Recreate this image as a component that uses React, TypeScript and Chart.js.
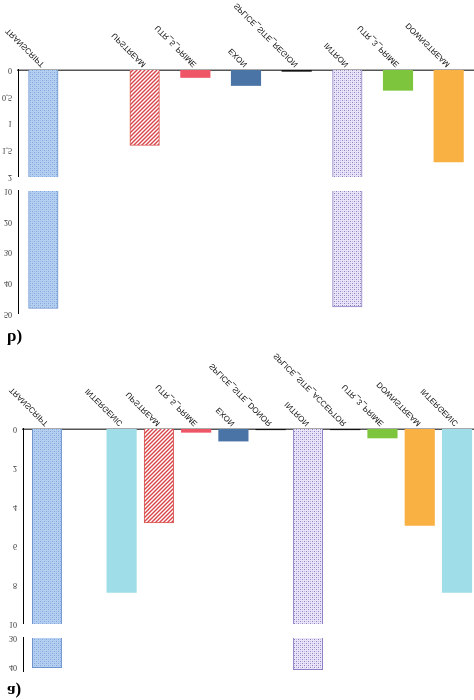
import React, { useEffect, useRef } from "react";
import { Chart, registerables } from "chart.js";
Chart.register(...registerables);

// ---- data ----
const catsB = ["TRANSCRIPT", "", "UPSTREAM", "UTR_5_PRIME", "EXON", "SPLICE_SITE_REGION", "INTRON", "UTR_3_PRIME", "DOWNSTREAM"];
const valsB: (number | null)[] = [48.2, null, 1.41, 0.14, 0.29, 0.025, 47.7, 0.38, 1.72];
const catsA = ["TRANSCRIPT", "", "INTERGENIC", "UPSTREAM", "UTR_5_PRIME", "EXON", "SPLICE_SITE_DONOR", "INTRON", "SPLICE_SITE_ACCEPTOR", "UTR_3_PRIME", "DOWNSTREAM", "INTERGENIC"];
const valsA: (number | null)[] = [40.0, null, 8.38, 4.82, 0.17, 0.62, 0.04, 40.7, 0.04, 0.46, 4.94, 8.38];
const ticksBLow = [0, 0.5, 1, 1.5, 2];
const ticksBHigh = [10, 20, 30, 40, 50];
const ticksALow = [0, 2, 4, 6, 8, 10];
const ticksAHigh = [30, 40];

function makeTile(draw: (ctx: CanvasRenderingContext2D) => void, size: number) {
  const c = document.createElement("canvas");
  c.width = size;
  c.height = size;
  const ctx = c.getContext("2d")!;
  draw(ctx);
  return ctx.createPattern(c, "repeat")!;
}

function makeStyles() {
  const dotsBlue = makeTile((ctx) => {
    ctx.fillStyle = "#B4CFF0";
    ctx.fillRect(0, 0, 4, 4);
    ctx.fillStyle = "#7FA5DC";
    ctx.fillRect(0, 0, 1, 1);
    ctx.fillRect(2, 2, 1, 1);
    ctx.fillStyle = "#9DBEE8";
    ctx.fillRect(2, 0, 1, 1);
    ctx.fillRect(0, 2, 1, 1);
  }, 4);
  const dotsPurple = makeTile((ctx) => {
    ctx.fillStyle = "#EAE6F7";
    ctx.fillRect(0, 0, 4, 4);
    ctx.fillStyle = "#8D80C9";
    ctx.fillRect(0, 0, 1, 1);
    ctx.fillRect(2, 2, 1, 1);
    ctx.fillStyle = "#C3BAE6";
    ctx.fillRect(2, 0, 1, 1);
    ctx.fillRect(0, 2, 1, 1);
  }, 4);
  const hatchRed = makeTile((ctx) => {
    ctx.fillStyle = "#FFFFFF";
    ctx.fillRect(0, 0, 4, 4);
    ctx.strokeStyle = "#D8454A";
    ctx.lineWidth = 1.4;
    ctx.beginPath();
    ctx.moveTo(0, 0); ctx.lineTo(4, 4);
    ctx.moveTo(-1, 3); ctx.lineTo(1, 5);
    ctx.moveTo(3, -1); ctx.lineTo(5, 1);
    ctx.stroke();
  }, 4);
  const fill = (c: string): any => {
    if (c === "TRANSCRIPT") return dotsBlue;
    if (c === "INTERGENIC") return "#9FDDE9";
    if (c === "UPSTREAM") return hatchRed;
    if (c === "UTR_5_PRIME") return "#EE5566";
    if (c === "EXON") return "#4A73A6";
    if (c.startsWith("SPLICE")) return "#111111";
    if (c === "INTRON") return dotsPurple;
    if (c === "UTR_3_PRIME") return "#7DC53C";
    if (c === "DOWNSTREAM") return "#F8B142";
    return "rgba(0,0,0,0)";
  };
  const border = (c: string) => {
    if (c === "TRANSCRIPT") return "#6D94CF";
    if (c === "INTRON") return "#8E80C4";
    if (c === "UPSTREAM") return "#D9534F";
    return "rgba(0,0,0,0)";
  };
  const bw = (c: string) => (c === "TRANSCRIPT" || c === "INTRON" || c === "UPSTREAM" ? 1 : 0);
  return { fill, border, bw };
}

type SegProps = {
  cats: string[];
  vals: (number | null)[];
  xMin: number;
  xMax: number;
  yMin: number;
  yMax: number;
  yTicks: number[];
  showX: boolean;
  seenTop: number;
  height: number;
  xAxisH: number;
  padTop: number;
  padBottom: number;
  yAxisW: number;
};

function Seg(p: SegProps) {
  const ref = useRef<HTMLCanvasElement | null>(null);
  useEffect(() => {
    const st = makeStyles();
    const chart = new Chart(ref.current!, {
      type: "bar",
      data: {
        datasets: [
          {
            data: p.cats.map((c, i) => ({ x: i, y: p.vals[i] })) as any,
            backgroundColor: p.cats.map(st.fill),
            borderColor: p.cats.map(st.border),
            borderWidth: p.cats.map(st.bw),
            barThickness: 29.5,
          },
        ],
      },
      options: {
        responsive: false,
        animation: false,
        layout: { padding: { top: p.padTop, bottom: p.padBottom, left: 0, right: 0 } },
        plugins: { legend: { display: false }, tooltip: { enabled: false } },
        scales: {
          x: {
            type: "linear",
            min: p.xMin,
            max: p.xMax,
            offset: false,
            display: p.showX,
            z: 1,
            grid: { display: false, drawTicks: false, offset: false },
            border: { display: true, color: "#555555", width: 1.6 },
            ticks: {
              autoSkip: false,
              minRotation: 45,
              maxRotation: 45,
              padding: 1,
              font: { family: "Liberation Sans", size: 8 },
              color: "#111111",
              callback: (_v: any, i: number) => p.cats[i] ?? "",
            },
            afterBuildTicks: (s: any) => {
              s.ticks = p.cats.map((_c, i) => ({ value: i }));
            },
            afterFit: (s: any) => {
              if (p.showX) s.height = p.xAxisH;
              s.paddingLeft = 0;
              s.paddingRight = 0;
            },
          } as any,
          y: {
            type: "linear",
            min: p.yMin,
            max: p.yMax,
            beginAtZero: false,
            z: 1,
            grid: { display: false, drawTicks: false },
            border: { display: true, color: "#000000", width: 1 },
            ticks: {
              padding: 6,
              font: { family: "Liberation Serif", size: 8 },
              color: "#333333",
              callback: (v: any) => String(v).replace(".", ","),
            },
            afterBuildTicks: (s: any) => {
              s.ticks = p.yTicks.map((v) => ({ value: v }));
            },
            afterFit: (s: any) => {
              s.width = p.yAxisW;
              s.paddingTop = 0;
              s.paddingBottom = 0;
            },
          } as any,
        },
      },
    });
    return () => chart.destroy();
  }, []);
  const top = 700 - p.seenTop - p.height;
  return (
    <canvas
      ref={ref}
      width={474}
      height={p.height}
      style={{ position: "absolute", left: 0, top, width: 474, height: p.height }}
    />
  );
}

export default function App() {
  const lbl: React.CSSProperties = {
    position: "absolute",
    left: 7,
    fontFamily: "Liberation Serif",
    fontWeight: "bold",
    fontSize: 17,
    lineHeight: "17px",
    color: "#000",
  };
  return (
    <div
      style={{
        position: "absolute",
        left: 0,
        top: 0,
        width: 474,
        height: 700,
        overflow: "hidden",
        background: "#fff",
        transform: "scaleY(-1)",
      }}
    >
      <div style={{ ...lbl, top: 0 }}>a)</div>
      <div style={{ ...lbl, top: 353 }}>b)</div>
      {/* panel b (top in picture) */}
      <Seg cats={catsB} vals={valsB} xMin={-0.5} xMax={8.5} yMin={0} yMax={2} yTicks={ticksBLow}
        showX={true} seenTop={0} height={183} xAxisH={70} padTop={6} padBottom={0} yAxisW={18} />
      <Seg cats={catsB} vals={valsB} xMin={-0.5} xMax={8.5} yMin={10} yMax={50} yTicks={ticksBHigh}
        showX={false} seenTop={185} height={135} xAxisH={0} padTop={6} padBottom={6} yAxisW={18} />
      {/* panel a (bottom in picture) */}
      <Seg cats={catsA} vals={valsA} xMin={-0.646} xMax={11.456} yMin={0} yMax={10} yTicks={ticksALow}
        showX={true} seenTop={346} height={284} xAxisH={83} padTop={6} padBottom={0} yAxisW={23} />
      <Seg cats={catsA} vals={valsA} xMin={-0.646} xMax={11.456} yMin={30} yMax={41.5} yTicks={ticksAHigh}
        showX={false} seenTop={632} height={46} xAxisH={0} padTop={6} padBottom={6} yAxisW={23} />
    </div>
  );
}
